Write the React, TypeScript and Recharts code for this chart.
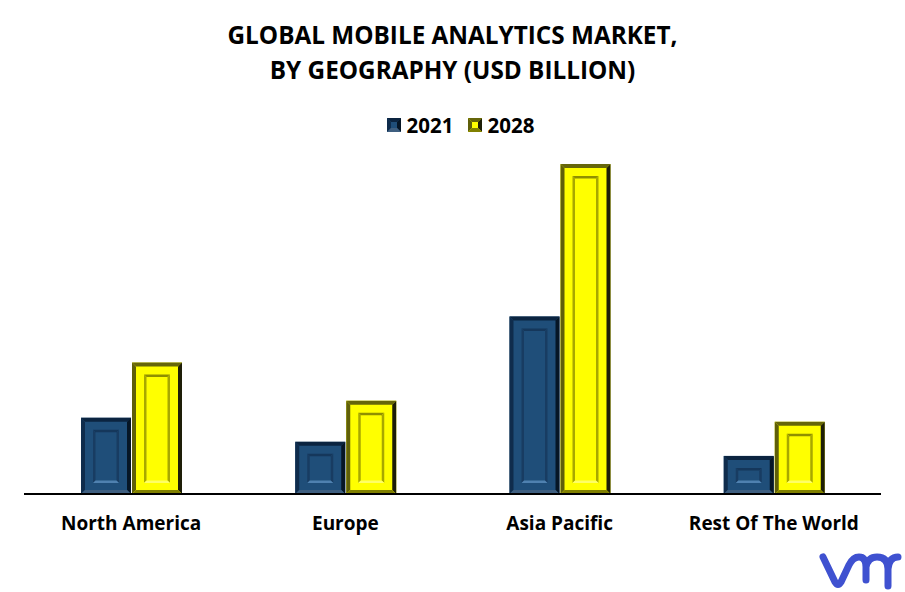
import { BarChart, Bar, XAxis, YAxis, Legend } from "recharts"

const categories = ["North America", "Europe", "Asia Pacific", "Rest Of The World"]
const values2021 = [7.6, 5.2, 17.7, 3.8]
const values2028 = [13.1, 9.3, 32.9, 7.2]
const titleLines = ["GLOBAL MOBILE ANALYTICS MARKET,", "BY GEOGRAPHY (USD BILLION)"]

const rows = categories.map((name, i) => ({
  name,
  y2021: values2021[i],
  y2028: values2028[i],
}))

const FONT = "'Open Sans', 'Noto Sans', sans-serif"

interface Bevel {
  fill: string
  top: string
  left: string
  right: string
  bottom: string
  inTop: string
  inSide: string
  inBottom: string
}

const BLUE: Bevel = {
  fill: "#1f4e79",
  top: "#0b2440",
  left: "#0f2c4c",
  right: "#061626",
  bottom: "#3f5f80",
  inTop: "#15375b",
  inSide: "#183c62",
  inBottom: "#4f81b0",
}

const YELLOW: Bevel = {
  fill: "#ffff00",
  top: "#66660a",
  left: "#5f5f0a",
  right: "#1e1e08",
  bottom: "#808000",
  inTop: "#8f8f00",
  inSide: "#a8a800",
  inBottom: "#ffff66",
}

// four trapezoids around a rect, like the bevel effect in the original
function Frame({ x, y, w, h, t, c }: { x: number; y: number; w: number; h: number; t: number; c: [string, string, string, string] }) {
  const r = x + w
  const b = y + h
  return (
    <g>
      <polygon fill={c[0]} points={`${x},${y} ${r},${y} ${r - t},${y + t} ${x + t},${y + t}`} />
      <polygon fill={c[1]} points={`${x},${y} ${x + t},${y + t} ${x + t},${b - t} ${x},${b}`} />
      <polygon fill={c[2]} points={`${r},${y} ${r},${b} ${r - t},${b - t} ${r - t},${y + t}`} />
      <polygon fill={c[3]} points={`${x},${b} ${x + t},${b - t} ${r - t},${b - t} ${r},${b}`} />
    </g>
  )
}

function bevelShape(colors: Bevel) {
  return (props: any) => {
    const { x, y, width, height } = props
    return (
      <g>
        <rect x={x} y={y} width={width} height={height} fill={colors.fill} />
        <Frame x={x} y={y} w={width} h={height} t={4} c={[colors.top, colors.left, colors.right, colors.bottom]} />
        <Frame
          x={x + 12}
          y={y + 12}
          w={width - 24}
          h={height - 23}
          t={2.5}
          c={[colors.inTop, colors.inSide, colors.inSide, colors.inBottom]}
        />
      </g>
    )
  }
}

function LegendSwatch({ colors }: { colors: Bevel }) {
  return (
    <svg width={14} height={14} style={{ display: "block" }}>
      <rect width={14} height={14} fill={colors.fill} />
      <Frame x={0} y={0} w={14} h={14} t={4} c={[colors.top, colors.left, colors.right, colors.bottom]} />
    </svg>
  )
}

function LegendRow() {
  const items: [string, Bevel][] = [
    ["2021", BLUE],
    ["2028", YELLOW],
  ]
  return (
    <div style={{ display: "flex", justifyContent: "center", gap: 14, fontFamily: FONT, fontWeight: 700, fontSize: 20.5, color: "#000" }}>
      {items.map(([label, colors]) => (
        <div key={label} style={{ display: "flex", alignItems: "center", gap: 6 }}>
          <LegendSwatch colors={colors} />
          <span>{label}</span>
        </div>
      ))}
    </div>
  )
}

export default function App() {
  return (
    <div style={{ position: "absolute", left: 0, top: 0, width: 905, height: 592, background: "#fff", overflow: "hidden" }}>
      <div
        style={{
          position: "absolute",
          top: 17,
          left: 0,
          width: 905,
          textAlign: "center",
          fontFamily: FONT,
          fontWeight: 700,
          fontSize: 24.3,
          lineHeight: "35px",
          color: "#000",
        }}
      >
        {titleLines.map((t) => (
          <div key={t}>{t}</div>
        ))}
      </div>
      <BarChart
        width={905}
        height={592}
        data={rows}
        margin={{ top: 136, right: 24, bottom: 68, left: 24 }}
        barSize={50}
        barGap={1}
      >
        <XAxis
          dataKey="name"
          axisLine={{ stroke: "#000", strokeWidth: 2 }}
          tickLine={false}
          tick={{ fontFamily: FONT, fontWeight: 700, fontSize: 19, fill: "#000" }}
          tickMargin={17}
          interval={0}
        />
        <YAxis hide domain={[0, 32.9]} />
        <Legend
          verticalAlign="top"
          content={<LegendRow />}
          wrapperStyle={{ position: "absolute", top: 111, left: 8, width: 905 }}
        />
        <Bar dataKey="y2021" name="2021" fill={BLUE.fill} shape={bevelShape(BLUE)} isAnimationActive={false} />
        <Bar dataKey="y2028" name="2028" fill={YELLOW.fill} shape={bevelShape(YELLOW)} isAnimationActive={false} />
      </BarChart>
      <svg width={905} height={592} style={{ position: "absolute", left: 0, top: 0, pointerEvents: "none" }}>
        <path
          d="M823 557 L835 582 Q838 587 841 582 L849 565 Q853 557 859 557 Q866 557 866 567 L866 580 M866 567 Q868 557 877 557 Q888 557 888 569 L888 586 M888 569 Q889 557 898 557"
          fill="none"
          stroke="#3f51d0"
          strokeWidth={7}
          strokeLinecap="round"
          strokeLinejoin="round"
        />
      </svg>
    </div>
  )
}
